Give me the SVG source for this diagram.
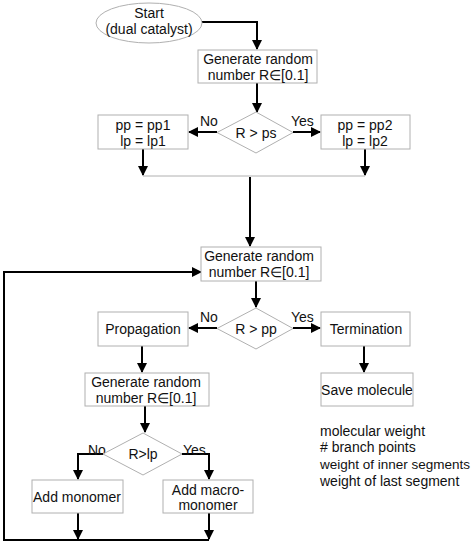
<svg xmlns="http://www.w3.org/2000/svg" width="474" height="545" viewBox="0 0 474 545">
<defs>
<marker id="ah" markerWidth="10" markerHeight="10" refX="9" refY="5" orient="auto" markerUnits="userSpaceOnUse">
<path d="M0,0 L10,5 L0,10 Z" fill="#000"/>
</marker>
<style>
.box{fill:#fff;stroke:#b0b0b0;stroke-width:1}
.t{font-family:"Liberation Sans",Arial,sans-serif;font-size:14px;fill:#111;text-anchor:middle}
.tl{font-family:"Liberation Sans",Arial,sans-serif;font-size:14px;fill:#111}
.c{fill:none;stroke:#000;stroke-width:2}
.g{fill:none;stroke:#b0b0b0;stroke-width:1}
</style>
</defs>
<rect width="474" height="545" fill="#fff"/>
<g id="connectors">
<path class="c" d="M202,22 H257 V49" marker-end="url(#ah)"/>
<path class="c" d="M257,83 V112" marker-end="url(#ah)"/>
<path class="c" d="M217,132 H189" marker-end="url(#ah)"/>
<path class="c" d="M293,132 H320" marker-end="url(#ah)"/>
<path class="c" d="M143,149 V175" marker-end="url(#ah)"/>
<path class="c" d="M365,149 V175" marker-end="url(#ah)"/>
<path class="g" d="M143,176 H365"/>
<path class="c" d="M250,177 V246" marker-end="url(#ah)"/>
<path class="c" d="M256,281 V307" marker-end="url(#ah)"/>
<path class="c" d="M217,328 H189" marker-end="url(#ah)"/>
<path class="c" d="M293,328 H320" marker-end="url(#ah)"/>
<path class="c" d="M142,346 V372" marker-end="url(#ah)"/>
<path class="c" d="M364,346 V372" marker-end="url(#ah)"/>
<path class="c" d="M145,406 V432" marker-end="url(#ah)"/>
<path class="c" d="M103,454 H78 V479" marker-end="url(#ah)"/>
<path class="c" d="M182,454 H209 V479" marker-end="url(#ah)"/>
<path class="c" d="M78,513 V539" marker-end="url(#ah)"/>
<path class="c" d="M209,513 V539" marker-end="url(#ah)"/>
<path class="c" d="M209,540 H4 V272 H201" marker-end="url(#ah)"/>
<text class="tl" x="200" y="126">No</text>
<text class="tl" x="291" y="126">Yes</text>
<text class="tl" x="200" y="322">No</text>
<text class="tl" x="291" y="322">Yes</text>
<text class="tl" x="88" y="455">No</text>
<text class="tl" x="183" y="455">Yes</text>
</g>
<g id="start">
<ellipse class="box" cx="149" cy="23" rx="53" ry="20"/>
<text class="t" x="149" y="18">Start</text>
<text class="t" x="149" y="34">(dual catalyst)</text>
</g>
<g id="gen1">
<rect class="box" x="198" y="50" width="119" height="33"/>
<text class="t" x="258" y="64">Generate random</text>
<text class="t" x="258" y="80">number R∈[0.1]</text>
</g>
<g id="dec1">
<polygon class="box" points="256,112 293,132.5 256,153 217,132.5"/>
<text class="t" x="256" y="138">R &gt; ps</text>
</g>
<g id="set1">
<rect class="box" x="98" y="115" width="90" height="34"/>
<text class="t" x="143" y="130">pp = pp1</text>
<text class="t" x="143" y="146">lp = lp1</text>
</g>
<g id="set2">
<rect class="box" x="321" y="115" width="89" height="34"/>
<text class="t" x="365" y="130">pp = pp2</text>
<text class="t" x="365" y="146">lp = lp2</text>
</g>
<g id="gen2">
<rect class="box" x="201" y="247" width="120" height="34"/>
<text class="t" x="259" y="261">Generate random</text>
<text class="t" x="259" y="277">number R∈[0.1]</text>
</g>
<g id="dec2">
<polygon class="box" points="256,308 293,328.5 256,349 217,328.5"/>
<text class="t" x="256" y="334">R &gt; pp</text>
</g>
<g id="propagation">
<rect class="box" x="98" y="312" width="90" height="34"/>
<text class="t" x="143" y="334">Propagation</text>
</g>
<g id="termination">
<rect class="box" x="321" y="312" width="89" height="34"/>
<text class="t" x="366" y="334">Termination</text>
</g>
<g id="save">
<rect class="box" x="321" y="373" width="92" height="33"/>
<text class="t" x="367" y="395">Save molecule</text>
</g>
<g id="gen3">
<rect class="box" x="85" y="373" width="124" height="33"/>
<text class="t" x="146" y="387">Generate random</text>
<text class="t" x="146" y="403">number R∈[0.1]</text>
</g>
<g id="dec3">
<polygon class="box" points="143,433 182,454 143,475 103,454"/>
<text class="t" x="143" y="459">R&gt;lp</text>
</g>
<g id="addmono">
<rect class="box" x="32" y="480" width="91" height="33"/>
<text class="t" x="77" y="502">Add monomer</text>
</g>
<g id="addmacro">
<rect class="box" x="163" y="480" width="90" height="33"/>
<text class="t" x="208" y="495">Add macro-</text>
<text class="t" x="208" y="510">monomer</text>
</g>
<g id="outputs">
<text class="tl" x="320" y="436">molecular weight</text>
<text class="tl" x="320" y="452"># branch points</text>
<text class="tl" x="320" y="469" style="font-size:13.5px">weight of inner segments</text>
<text class="tl" x="320" y="486">weight of last segment</text>
</g>
</svg>
